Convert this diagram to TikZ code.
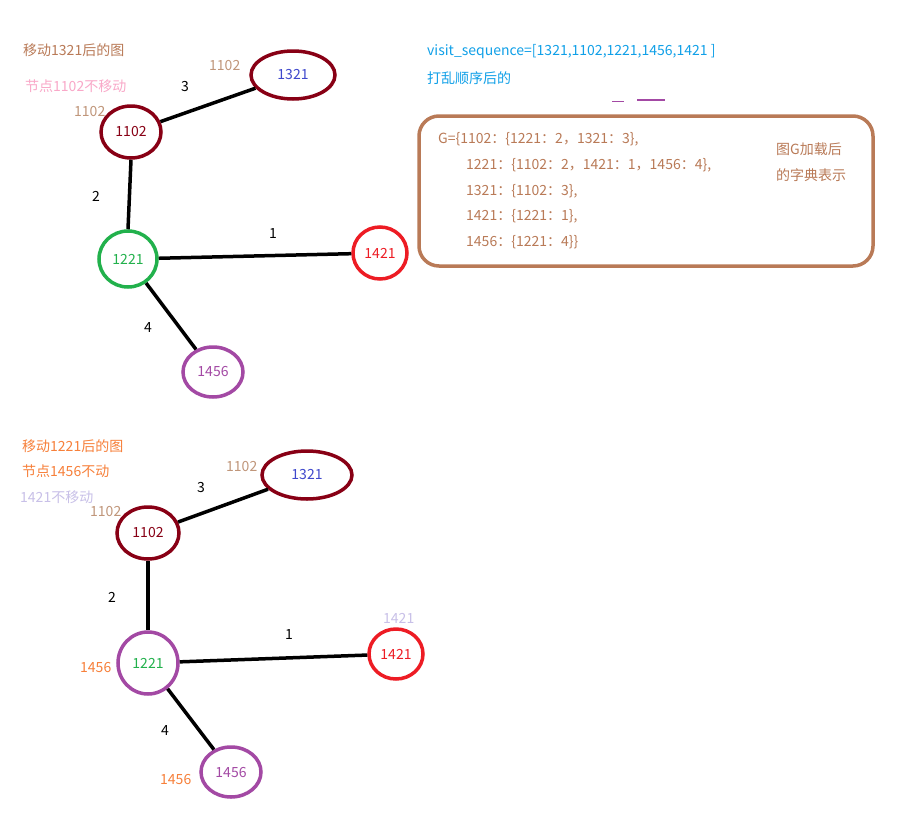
\documentclass[tikz,border=0pt]{standalone}
\usepackage{fontspec}
\setmainfont{Noto Sans CJK SC}
\usetikzlibrary{shapes.geometric}
\definecolor{dred}{HTML}{880015}
\definecolor{cblue}{HTML}{3F48CC}
\definecolor{cgreen}{HTML}{22B14C}
\definecolor{cred}{HTML}{ED1C24}
\definecolor{cpurp}{HTML}{A349A4}
\definecolor{tan}{HTML}{B97A57}
\definecolor{ltan}{HTML}{C0967A}
\definecolor{cyanb}{HTML}{10A0E8}
\definecolor{pinkc}{HTML}{F9A8C8}
\definecolor{orangec}{HTML}{F7803A}
\definecolor{lav}{HTML}{C8C0E8}
\begin{document}
\begin{tikzpicture}[x=1pt,y=-1pt,
  every node/.style={font=\fontsize{14}{16}\selectfont},
  gn/.style={ellipse,line width=3.5pt,inner sep=0pt},
  ed/.style={line width=3.5pt,black},
  el/.style={text=black},
  tx/.style={anchor=west,inner sep=0pt}]
\useasboundingbox[fill=white] (0,0) rectangle (900,833);
% ---- top graph
\node[gn,draw=dred,text=cblue,minimum width=84pt,minimum height=48pt] (a1321) at (293,75) {1321};
\node[gn,draw=dred,text=dred,minimum width=60pt,minimum height=52pt] (a1102) at (131,132) {1102};
\node[gn,draw=cgreen,text=cgreen,minimum width=58pt,minimum height=56pt] (a1221) at (128,259) {1221};
\node[gn,draw=cred,text=cred,minimum width=54pt,minimum height=52pt] (a1421) at (380,253) {1421};
\node[gn,draw=cpurp,text=cpurp,minimum width=60pt,minimum height=50pt] (a1456) at (213,372) {1456};
\draw[ed] (a1102) -- (a1321);
\draw[ed] (a1102.south) -- (a1221.north);
\draw[ed] (a1221) -- (a1421);
\draw[ed] (a1221) -- (a1456);
\node[el] (la3) at (185,87) {3};
\node[el] (la2) at (96,196) {2};
\node[el] (la1) at (273,234) {1};
\node[el] (la4) at (148,328) {4};
\node[tx,text=tan] (t1) at (23,50) {移动1321后的图};
\node[tx,text=pinkc] (t2) at (25,86) {节点1102不移动};
\node[tx,text=ltan] (t3) at (209,66) {1102};
\node[tx,text=ltan] (t4) at (74,112) {1102};
% ---- top right
\node[tx,text=cyanb] (vs) at (427,52) {visit\_sequence=[1321,1102,1221,1456,1421 ]};
\node[tx,text=cyanb] (dl) at (427,78) {打乱顺序后的};
\draw[cpurp,line width=1pt] (612,101) -- (624,101);
\draw[cpurp,line width=2pt] (637,100) -- (665,100);
\draw[tan,line width=3.5pt,rounded corners=20pt] (419,116) rectangle (873,266);
\node[tx,text=tan] (g1) at (438,139) {G=\{1102：\{1221：2，1321：3\},};
\node[tx,text=tan] (g2) at (466,165) {1221：\{1102：2，1421：1，1456：4\},};
\node[tx,text=tan] (g3) at (466,191) {1321：\{1102：3\},};
\node[tx,text=tan] (g4) at (466,216) {1421：\{1221：1\},};
\node[tx,text=tan] (g5) at (466,242) {1456：\{1221：4\}\}};
\node[tx,text=tan] (r1) at (776,149) {图G加载后};
\node[tx,text=tan] (r2) at (776,175) {的字典表示};
% ---- bottom graph
\node[gn,draw=dred,text=cblue,minimum width=90pt,minimum height=48pt] (b1321) at (307,475) {1321};
\node[gn,draw=dred,text=dred,minimum width=62pt,minimum height=52pt] (b1102) at (148,533) {1102};
\node[gn,draw=cpurp,text=cgreen,minimum width=60pt,minimum height=62pt] (b1221) at (148,663) {1221};
\node[gn,draw=cred,text=cred,minimum width=54pt,minimum height=50pt] (b1421) at (396,654) {1421};
\node[gn,draw=cpurp,text=cpurp,minimum width=60pt,minimum height=50pt] (b1456) at (231,772) {1456};
\draw[ed] (b1102) -- (b1321);
\draw[ed] (b1102.south) -- (b1221.north);
\draw[ed] (b1221) -- (b1421);
\draw[ed] (b1221) -- (b1456);
\node[el] (lb3) at (201,488) {3};
\node[el] (lb2) at (112,597) {2};
\node[el] (lb1) at (289,635) {1};
\node[el] (lb4) at (165,730) {4};
\node[tx,text=orangec] (s1) at (22,446) {移动1221后的图};
\node[tx,text=orangec] (s2) at (22,471) {节点1456不动};
\node[tx,text=lav] (s3) at (20,497) {1421不移动};
\node[tx,text=ltan] (s4) at (226,467) {1102};
\node[tx,text=ltan] (s5) at (90,512) {1102};
\node[tx,text=lav] (s6) at (383,618) {1421};
\node[tx,text=orangec] (s7) at (80,668) {1456};
\node[tx,text=orangec] (s8) at (160,779) {1456};
\end{tikzpicture}
\end{document}
